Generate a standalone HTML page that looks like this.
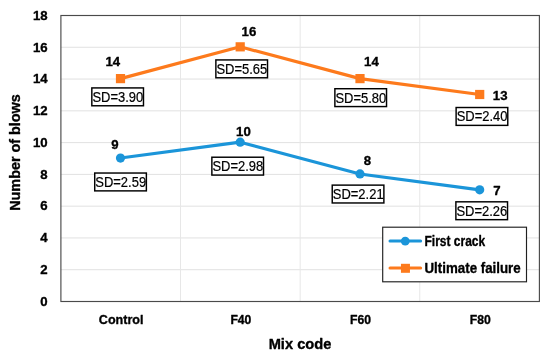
<!DOCTYPE html>
<html lang="en"><head><meta charset="utf-8"><title>Number of blows vs mix code</title>
<style>html,body{margin:0;padding:0;background:#fff;}svg{display:block;}text{font-family:"Liberation Sans",sans-serif;fill:#000;}.b{font-weight:bold;stroke:#000;stroke-width:0.35px;stroke-linejoin:round;}</style>
</head><body>
<svg width="550" height="356" viewBox="0 0 550 356">
<rect x="0" y="0" width="550" height="356" fill="#ffffff"/>
<line x1="60.9" x2="539.4" y1="269.72" y2="269.72" stroke="#e1e1e1" stroke-width="1"/>
<line x1="60.9" x2="539.4" y1="237.94" y2="237.94" stroke="#e1e1e1" stroke-width="1"/>
<line x1="60.9" x2="539.4" y1="206.17" y2="206.17" stroke="#e1e1e1" stroke-width="1"/>
<line x1="60.9" x2="539.4" y1="174.39" y2="174.39" stroke="#e1e1e1" stroke-width="1"/>
<line x1="60.9" x2="539.4" y1="142.61" y2="142.61" stroke="#e1e1e1" stroke-width="1"/>
<line x1="60.9" x2="539.4" y1="110.83" y2="110.83" stroke="#e1e1e1" stroke-width="1"/>
<line x1="60.9" x2="539.4" y1="79.06" y2="79.06" stroke="#e1e1e1" stroke-width="1"/>
<line x1="60.9" x2="539.4" y1="47.28" y2="47.28" stroke="#e1e1e1" stroke-width="1"/>
<line x1="180.53" x2="180.53" y1="15.5" y2="301.5" stroke="#e7e7e7" stroke-width="1"/>
<line x1="300.15" x2="300.15" y1="15.5" y2="301.5" stroke="#e7e7e7" stroke-width="1"/>
<line x1="419.77" x2="419.77" y1="15.5" y2="301.5" stroke="#e7e7e7" stroke-width="1"/>
<rect x="60.9" y="15.5" width="478.5" height="286.00" fill="none" stroke="#4a4a4a" stroke-width="1.15"/>
<text class="b" x="47.7" y="305.75" font-size="13.6" text-anchor="end" textLength="7.35" lengthAdjust="spacingAndGlyphs">0</text>
<text class="b" x="47.7" y="273.97" font-size="13.6" text-anchor="end" textLength="7.35" lengthAdjust="spacingAndGlyphs">2</text>
<text class="b" x="47.7" y="242.19" font-size="13.6" text-anchor="end" textLength="7.35" lengthAdjust="spacingAndGlyphs">4</text>
<text class="b" x="47.7" y="210.42" font-size="13.6" text-anchor="end" textLength="7.35" lengthAdjust="spacingAndGlyphs">6</text>
<text class="b" x="47.7" y="178.64" font-size="13.6" text-anchor="end" textLength="7.35" lengthAdjust="spacingAndGlyphs">8</text>
<text class="b" x="47.7" y="146.86" font-size="13.6" text-anchor="end" textLength="14.7" lengthAdjust="spacingAndGlyphs">10</text>
<text class="b" x="47.7" y="115.08" font-size="13.6" text-anchor="end" textLength="14.7" lengthAdjust="spacingAndGlyphs">12</text>
<text class="b" x="47.7" y="83.31" font-size="13.6" text-anchor="end" textLength="14.7" lengthAdjust="spacingAndGlyphs">14</text>
<text class="b" x="47.7" y="51.53" font-size="13.6" text-anchor="end" textLength="14.7" lengthAdjust="spacingAndGlyphs">16</text>
<text class="b" x="47.7" y="19.75" font-size="13.6" text-anchor="end" textLength="14.7" lengthAdjust="spacingAndGlyphs">18</text>
<text class="b" transform="translate(19.7,152.5) rotate(-90)" font-size="14.4" text-anchor="middle" textLength="116.6" lengthAdjust="spacingAndGlyphs">Number of blows</text>
<text class="b" x="121.2" y="324.25" font-size="13.3" text-anchor="middle" textLength="44.7" lengthAdjust="spacingAndGlyphs">Control</text>
<text class="b" x="240.9" y="324.25" font-size="13.3" text-anchor="middle" textLength="21.0" lengthAdjust="spacingAndGlyphs">F40</text>
<text class="b" x="360.55" y="324.25" font-size="13.3" text-anchor="middle" textLength="21.0" lengthAdjust="spacingAndGlyphs">F60</text>
<text class="b" x="480.25" y="324.25" font-size="13.3" text-anchor="middle" textLength="21.0" lengthAdjust="spacingAndGlyphs">F80</text>
<text class="b" x="300" y="348.8" font-size="14.4" text-anchor="middle" textLength="62.6" lengthAdjust="spacingAndGlyphs">Mix code</text>
<polyline points="120.50,78.61 240.20,46.83 360.00,78.61 479.70,94.49" fill="none" stroke="#fd7a1c" stroke-width="3.15" stroke-linejoin="round" stroke-linecap="round"/>
<rect x="115.90" y="74.01" width="9.2" height="9.2" fill="#fd7a1c"/>
<rect x="235.60" y="42.23" width="9.2" height="9.2" fill="#fd7a1c"/>
<rect x="355.40" y="74.01" width="9.2" height="9.2" fill="#fd7a1c"/>
<rect x="475.10" y="89.89" width="9.2" height="9.2" fill="#fd7a1c"/>
<polyline points="120.50,158.05 240.20,142.16 360.00,173.94 479.70,189.83" fill="none" stroke="#1b95d9" stroke-width="3.15" stroke-linejoin="round" stroke-linecap="round"/>
<circle cx="120.50" cy="158.05" r="4.6" fill="#1b95d9"/>
<circle cx="240.20" cy="142.16" r="4.6" fill="#1b95d9"/>
<circle cx="360.00" cy="173.94" r="4.6" fill="#1b95d9"/>
<circle cx="479.70" cy="189.83" r="4.6" fill="#1b95d9"/>
<text class="b" x="112.8" y="66.25" font-size="13.6" text-anchor="middle" textLength="14.7" lengthAdjust="spacingAndGlyphs">14</text>
<text class="b" x="248.9" y="35.55" font-size="13.6" text-anchor="middle" textLength="14.7" lengthAdjust="spacingAndGlyphs">16</text>
<text class="b" x="371.4" y="66.15" font-size="13.6" text-anchor="middle" textLength="14.7" lengthAdjust="spacingAndGlyphs">14</text>
<text class="b" x="500.2" y="99.95" font-size="13.6" text-anchor="middle" textLength="14.7" lengthAdjust="spacingAndGlyphs">13</text>
<text class="b" x="115.0" y="149.15" font-size="13.6" text-anchor="middle" textLength="7.35" lengthAdjust="spacingAndGlyphs">9</text>
<text class="b" x="243.4" y="136.05" font-size="13.6" text-anchor="middle" textLength="14.7" lengthAdjust="spacingAndGlyphs">10</text>
<text class="b" x="367.3" y="164.85" font-size="13.6" text-anchor="middle" textLength="7.35" lengthAdjust="spacingAndGlyphs">8</text>
<text class="b" x="497.0" y="194.95" font-size="13.6" text-anchor="middle" textLength="7.35" lengthAdjust="spacingAndGlyphs">7</text>
<rect x="91.83" y="87.92" width="51.65" height="17.85" fill="#ffffff" stroke="#000000" stroke-width="1.45"/>
<text x="92.40" y="101.80" font-size="13.8" stroke="#000" stroke-width="0.2" textLength="50.8" lengthAdjust="spacingAndGlyphs">SD=3.90</text>
<rect x="215.87" y="59.93" width="51.65" height="17.85" fill="#ffffff" stroke="#000000" stroke-width="1.45"/>
<text x="216.45" y="73.80" font-size="13.8" stroke="#000" stroke-width="0.2" textLength="50.8" lengthAdjust="spacingAndGlyphs">SD=5.65</text>
<rect x="334.88" y="88.72" width="51.65" height="17.85" fill="#ffffff" stroke="#000000" stroke-width="1.45"/>
<text x="335.45" y="102.60" font-size="13.8" stroke="#000" stroke-width="0.2" textLength="50.8" lengthAdjust="spacingAndGlyphs">SD=5.80</text>
<rect x="456.12" y="107.52" width="51.65" height="17.85" fill="#ffffff" stroke="#000000" stroke-width="1.45"/>
<text x="456.70" y="121.40" font-size="13.8" stroke="#000" stroke-width="0.2" textLength="50.8" lengthAdjust="spacingAndGlyphs">SD=2.40</text>
<rect x="94.72" y="173.03" width="51.65" height="17.85" fill="#ffffff" stroke="#000000" stroke-width="1.45"/>
<text x="95.30" y="186.90" font-size="13.8" stroke="#000" stroke-width="0.2" textLength="50.8" lengthAdjust="spacingAndGlyphs">SD=2.59</text>
<rect x="211.87" y="157.22" width="51.65" height="17.85" fill="#ffffff" stroke="#000000" stroke-width="1.45"/>
<text x="212.45" y="171.10" font-size="13.8" stroke="#000" stroke-width="0.2" textLength="50.8" lengthAdjust="spacingAndGlyphs">SD=2.98</text>
<rect x="332.23" y="185.12" width="51.65" height="17.85" fill="#ffffff" stroke="#000000" stroke-width="1.45"/>
<text x="332.80" y="199.00" font-size="13.8" stroke="#000" stroke-width="0.2" textLength="50.8" lengthAdjust="spacingAndGlyphs">SD=2.21</text>
<rect x="455.88" y="201.82" width="51.65" height="17.85" fill="#ffffff" stroke="#000000" stroke-width="1.45"/>
<text x="456.45" y="215.70" font-size="13.8" stroke="#000" stroke-width="0.2" textLength="50.8" lengthAdjust="spacingAndGlyphs">SD=2.26</text>
<rect x="382.7" y="227.2" width="143.8" height="54.6" fill="#ffffff" stroke="#202020" stroke-width="1.15"/>
<line x1="390" x2="420.6" y1="241.1" y2="241.1" stroke="#1b95d9" stroke-width="3" stroke-linecap="round"/>
<circle cx="405.25" cy="241.2" r="4.4" fill="#1b95d9"/>
<text class="b" x="424.5" y="246" font-size="14.4" textLength="60.7" lengthAdjust="spacingAndGlyphs">First crack</text>
<line x1="390" x2="420.6" y1="268.1" y2="268.1" stroke="#fd7a1c" stroke-width="3" stroke-linecap="round"/>
<rect x="400.95" y="263.8" width="9" height="9" fill="#fd7a1c"/>
<text class="b" x="424.5" y="273.3" font-size="14.4" textLength="96.2" lengthAdjust="spacingAndGlyphs">Ultimate failure</text>
</svg>
</body></html>
